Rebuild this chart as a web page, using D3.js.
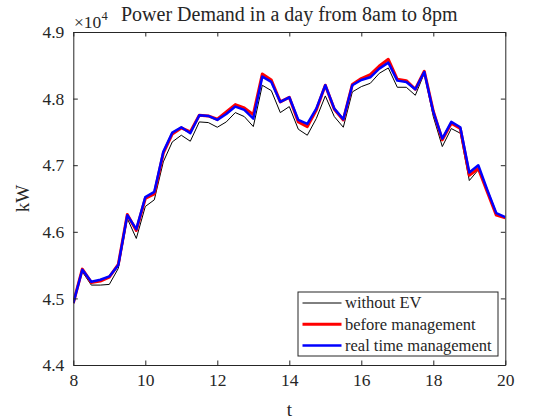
<!DOCTYPE html>
<html>
<head>
<meta charset="utf-8">
<script src="https://cdn.jsdelivr.net/npm/d3@7"></script>
<style>
  body { margin: 0; background: #fff; }
  svg text { font-family: "Liberation Serif", "Times New Roman", serif !important; fill: #262626; }
</style>
</head>
<body>
<div id="wrapper"></div>
<script>
// 1. Data (kW, one sample every 15 minutes from 8:00 to 20:00)

const hours = d3.range(8, 20.001, 0.25);

const withoutEV = [
	44930, 45400, 45200, 45200, 45210, 45450, 46200, 45900, 46380, 46480,
	47050, 47350, 47450, 47360, 47650, 47640, 47570, 47650, 47790, 47730,
	47580, 48200, 48120, 47790, 47880, 47540, 47450, 47700, 48040, 47730,
	47570, 48100, 48180, 48230, 48380, 48460, 48170, 48170, 48050, 48380,
	47730, 47280, 47550, 47480, 46770, 46930, 46610, 46270, 46220
];

const beforeManagement = [
	44930, 45440, 45240, 45260, 45320, 45510, 46260, 46020, 46500, 46570,
	47180, 47470, 47560, 47500, 47750, 47740, 47690, 47800, 47910, 47860,
	47760, 48370, 48280, 47950, 48020, 47650, 47580, 47830, 48200, 47840,
	47680, 48210, 48300, 48360, 48490, 48590, 48290, 48270, 48140, 48410,
	47810, 47380, 47630, 47550, 46850, 46950, 46600, 46250, 46210
];

const realTimeManagement = [
	44930, 45430, 45250, 45280, 45330, 45500, 46250, 46040, 46520, 46600,
	47200, 47490, 47570, 47480, 47750, 47740, 47680, 47770, 47880, 47830,
	47700, 48330, 48250, 47950, 48020, 47680, 47620, 47850, 48200, 47850,
	47690, 48200, 48280, 48320, 48450, 48540, 48270, 48250, 48140, 48400,
	47800, 47400, 47650, 47570, 46890, 47000, 46630, 46280, 46220
];

const seriesNames = ["without EV", "before management", "real time management"];
const seriesColors = ["#000000", "#ff0000", "#0000ff"];
const seriesWidths = [1, 3, 2.5];

const xTicks = [8, 10, 12, 14, 16, 18, 20];
const yTicks = [44000, 45000, 46000, 47000, 48000, 49000];

// 2. Dimensions

const width = 560;
const height = 420;
const margin = { top: 32, right: 54.7, bottom: 55, left: 73.3 };
const innerW = width - margin.left - margin.right;
const innerH = height - margin.top - margin.bottom;
const tickLen = 4.5;
const axisColor = "#262626";
const serif = "Liberation Serif, Times New Roman, serif";

// 3. Canvas

const svg = d3.select("#wrapper")
	.append("svg")
	.attr("width", width)
	.attr("height", height)
	.attr("font-family", serif);

const g = svg.append("g")
	.attr("transform", `translate(${margin.left},${margin.top})`);

// 4. Scales

const x = d3.scaleLinear().domain([8, 20]).range([0, innerW]);
const y = d3.scaleLinear().domain([44000, 49000]).range([innerH, 0]);

// 5. Lines

const series = [withoutEV, beforeManagement, realTimeManagement];

const line = d3.line()
	.x((d, i) => x(hours[i]))
	.y(d => y(d));

const plot = g.append("g");
plot.append("clipPath").attr("id", "clip")
	.append("rect").attr("width", innerW).attr("height", innerH);

plot.selectAll(".series")
	.data(series)
	.enter()
	.append("path")
	.attr("class", "series")
	.attr("clip-path", "url(#clip)")
	.attr("fill", "none")
	.attr("stroke", (d, i) => seriesColors[i])
	.attr("stroke-width", (d, i) => seriesWidths[i])
	.attr("stroke-linejoin", "round")
	.attr("d", line);

// 6. Axes (box with inward ticks on all sides)

const fmtY = d => d3.format(".1f")(d / 1e4);

const axisBottom = g.append("g")
	.attr("transform", `translate(0,${innerH})`)
	.call(d3.axisBottom(x).tickValues(xTicks).tickSizeInner(-tickLen).tickSizeOuter(0).tickPadding(9));
const axisTop = g.append("g")
	.call(d3.axisTop(x).tickValues(xTicks).tickSizeInner(-tickLen).tickSizeOuter(0).tickFormat(""));
const axisLeft = g.append("g")
	.call(d3.axisLeft(y).tickValues(yTicks).tickSizeInner(-tickLen).tickSizeOuter(0).tickFormat(fmtY).tickPadding(9));
const axisRight = g.append("g")
	.attr("transform", `translate(${innerW},0)`)
	.call(d3.axisRight(y).tickValues(yTicks).tickSizeInner(-tickLen).tickSizeOuter(0).tickFormat(""));

[axisBottom, axisTop, axisLeft, axisRight].forEach(a => {
	a.attr("font-family", serif).attr("font-size", 17.5);
	a.select(".domain").attr("stroke", axisColor).attr("stroke-width", 1);
	a.selectAll(".tick line").attr("stroke", axisColor).attr("stroke-width", 1);
	a.selectAll(".tick text").attr("fill", axisColor);
});

// 7. Labels

g.append("text")
	.attr("x", innerW / 2)
	.attr("y", innerH + 51)
	.attr("text-anchor", "middle")
	.attr("font-size", 19)
	.text("t");

svg.append("text")
	.attr("transform", `translate(29,${margin.top + innerH / 2}) rotate(-90)`)
	.attr("text-anchor", "middle")
	.attr("font-size", 19)
	.text("kW");

const expo = svg.append("text")
	.attr("x", 74)
	.attr("y", 28)
	.attr("font-size", 17.5);
expo.append("tspan").text("\u00d710");
expo.append("tspan").attr("dy", -8).attr("font-size", 12.5).text("4");

svg.append("text")
	.attr("x", margin.left + innerW / 2)
	.attr("y", 21)
	.attr("text-anchor", "middle")
	.attr("font-size", 20)
	.text("Power Demand in a day from 8am to 8pm");

// 8. Legend

const legend = svg.append("g").attr("transform", "translate(298,292)");
legend.append("rect")
	.attr("width", 200)
	.attr("height", 64)
	.attr("fill", "#fff")
	.attr("stroke", axisColor)
	.attr("stroke-width", 1);

const rows = legend.selectAll(".row")
	.data(seriesNames)
	.enter()
	.append("g")
	.attr("class", "row")
	.attr("transform", (d, i) => `translate(0,${11 + i * 21.3})`);

rows.append("line")
	.attr("x1", 4.5).attr("x2", 43.5)
	.attr("stroke", (d, i) => seriesColors[i])
	.attr("stroke-width", (d, i) => seriesWidths[i]);

rows.append("text")
	.attr("x", 47)
	.attr("dy", "0.33em")
	.attr("font-size", 16.5)
	.text(d => d);
</script>
</body>
</html>
